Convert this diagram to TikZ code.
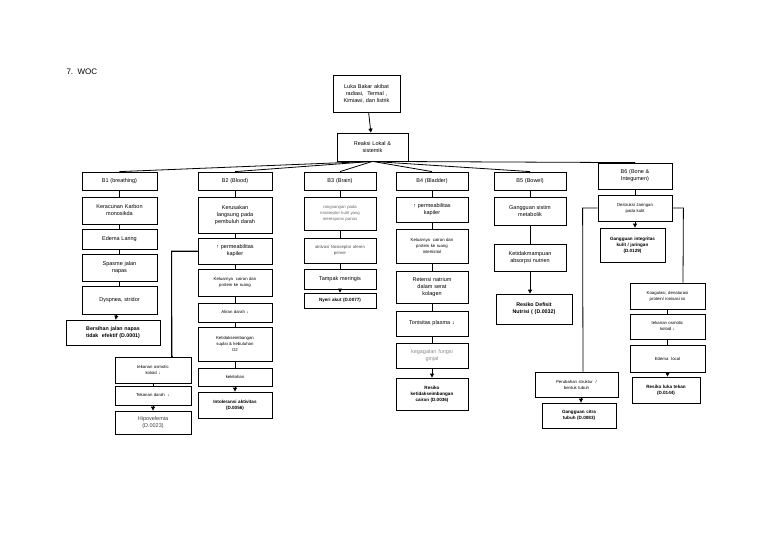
\documentclass[tikz,border=0pt]{standalone}
\usepackage{fontspec}
\setmainfont{Liberation Sans}
\usetikzlibrary{arrows.meta}
\begin{document}
\begin{tikzpicture}[x=1pt,y=-1pt,
  bx/.style={draw,line width=0.8pt,align=center,inner sep=1pt,font=\fontsize{5.5}{7}\selectfont},
  sm/.style={font=\fontsize{4.3}{6}\selectfont},
  bd/.style={font=\fontsize{5.3}{7}\selectfont\bfseries},
  ln/.style={line width=0.8pt},
  ar/.style={line width=0.8pt,-{Triangle[length=4pt,width=4pt]}}]
\useasboundingbox (0,0) rectangle (768,543);
\newcommand{\bb}[6][]{\node[bx,#1,minimum width={#4-#3},minimum height={#6-#5},text width={#4-#3-3}] (#2) at ({(#3+#4)/2},{(#5+#6)/2})}
\node[anchor=west,font=\fontsize{8}{9}\selectfont] (title) at (63,72) {7.\ \ WOC};
\bb{luka}{333}{400}{75}{112}{Luka Bakar akibat radiasi, \ Termal ,\\ Kimiawi, dan listrik};
\bb{reak}{337}{408}{133}{161}{Reaksi Lokal \&\\ sistemik};
\bb{b1}{82}{157}{172}{190}{B1 (breathing)};
\bb{b2}{198}{272}{172}{190}{B2 (Blood)};
\bb{b3}{304}{376}{172}{190}{B3 (Brain)};
\bb{b4}{396}{468}{172}{190}{B4 (Bladder)};
\bb{b5}{494}{566}{172}{190}{B5 (Bowel)};
\bb{b6}{598}{672}{163}{189}{B6 (Bone \&\\ Integumen)};
% B1
\bb{k1}{82}{157}{197}{224}{Keracunan Karbon\\ monosikda};
\bb{k2}{82}{157}{229}{249}{Edema Laring};
\bb{k3}{82}{157}{254}{281}{Spasme jalan\\ napas};
\bb{k4}{82}{157}{286}{314}{Dyspnea, stridor\\[5pt]};
\bb[bd]{k5}{66}{160}{320}{345}{Bersihan jalan napas\\ tidak \ efektif (D.0001)};
% B2
\bb{c1}{198}{272}{197}{233}{Kerusakan\\ langsung pada\\ pembuluh darah};
\bb{c2}{198}{272}{238}{264}{↑ permeabilitas\\ kapiler};
\bb[sm]{c3}{198}{272}{269}{296}{Keluarnya \ cairan dan\\ protein ke ruang\\[3pt]};
\bb[sm]{c4}{198}{272}{303}{322}{Aliran darah ↓};
\bb[sm]{c5}{198}{272}{327}{361}{Ketidakseimbangan\\ suplai \& kebutuhan\\ O2};
\bb[sm]{c6}{198}{272}{368}{386}{kelelahan\\[2pt]};
\bb[bd,font=\fontsize{4.6}{6}\selectfont\bfseries]{c7}{198}{272}{392}{418}{Intoleransi aktivitas\\ (D.0056)\\[3pt]};
\bb[sm]{d1}{115}{191}{357}{383}{tekanan osmotic\\ koloid ↓};
\bb[sm]{d2}{115}{191}{386}{405}{Tekanan darah \ ↓};
\bb[text=black!75]{d3}{115}{191}{411}{434}{Hipovelemia\\ (D.0023)};
% B3
\bb[sm,text=black!60]{e1}{304}{376}{197}{230}{rangsangan pada\\ nosiseptor kulit yang\\ merespons panas\\[3pt]};
\bb[sm,text=black!70]{e2}{304}{376}{238}{263}{aktivasi Nosiseptor aferen\\ primer\\[3pt]};
\bb{e3}{304}{376}{269}{289}{Tampak meringis};
\bb[bd,font=\fontsize{4.6}{6}\selectfont\bfseries]{e4}{304}{376}{293}{308}{Nyeri akut (D.0077)};
% B4
\bb{f1}{396}{468}{197}{222}{↑ permeabilitas\\ kapiler};
\bb[sm]{f2}{396}{468}{229}{263}{Keluarnya \ cairan dan\\ protein ke ruang\\ intertistial};
\bb{f3}{396}{468}{271}{303}{Retensi natrium\\ dalam serat\\ kolagen};
\bb{f4}{396}{468}{311}{336}{Tonisitas plasma ↓\\[5pt]};
\bb[text=black!45]{f5}{396}{468}{343}{368}{kegagalan fungsi\\ ginjal};
\bb[bd,font=\fontsize{4.6}{6}\selectfont\bfseries]{f6}{396}{468}{378}{410}{Resiko\\ ketidakseimbangan\\ cairan (D.0036)};
% B5
\bb{g1}{494}{566}{197}{225}{Gangguan sistim\\ metabolik};
\bb{g2}{494}{566}{244}{271}{Ketidakmampuan\\ absorpsi nutrien};
\bb[bd]{g3}{496}{572}{294}{324}{Resiko Defisit\\ Nutrisi ( (D.0032)};
% B6
\bb[sm]{h1}{598}{672}{195}{221}{Destruksi Jaringan\\ pada kulit};
\bb[bd,font=\fontsize{4.6}{6}\selectfont\bfseries]{h2}{600}{665}{228}{262}{Gangguan integritas\\ kulit / jaringan\\ (D.0129)};
\bb[sm]{h3}{630}{705}{283}{309}{Koagulasi, denaturasi\\ protein/ ionisasi isi};
\bb[sm]{h4}{630}{705}{314}{339}{tekanan osmotic\\ koloid ↓};
\bb[sm]{h5}{630}{705}{345}{372}{Edema \ local\\[6pt]};
\bb[bd,font=\fontsize{4.6}{6}\selectfont\bfseries]{h6}{632}{700}{377}{403}{Resiko luka tekan\\ (D.0144)};
\bb[sm]{p1}{535}{618}{372}{397}{Perubahan struktur \ /\\ bentuk tubuh};
\bb[bd,font=\fontsize{4.6}{6}\selectfont\bfseries]{p2}{542}{616}{403}{428}{Gangguan citra\\ tubuh (D.0083)};
% connectors
\draw[ar] (luka) -- (reak);
\foreach \b in {b1,b2,b3,b4,b5,b6} \draw[ln] (reak.south) -- (\b.north);
\draw[ln] (b1)--(k1) (k1)--(k2) (k2)--(k3) (k3)--(k4);
\draw[ar] (k4)--(k5);
\draw[ln] (b2)--(c1) (c1)--(c2) (c2)--(c3) (c3)--(c4) (c4)--(c5) (c5)--(c6);
\draw[ar] (c6)--(c7);
\draw[ln] (c2.west) -- ++(-26,0) |- (d1.north -| 172,0) coordinate (dt);
\draw[ln] (c2.west) -- ++(-26,0) -- (172,357);
\draw[ln] (d1.south -| 172,0) ++(0,0);
\draw[ln] (d1)--(d2);
\draw[ar] (d2)--(d3);
\draw[ln] (b3)--(e1) (e1)--(e2) (e2)--(e3);
\draw[ar] (e3)--(e4);
\draw[ln] (b4)--(f1) (f1)--(f2) (f2)--(f3) (f3)--(f4) (f4)--(f5);
\draw[ar] (f5)--(f6);
\draw[ln] (b5)--(g1) (g1)--(g2);
\draw[ar] (g2)--(g3.north -| g2);
\draw[ln] (b6)--(h1);
\draw[ar] (h1)--(h2.north -| h1);
\draw[ln] (h1.east) -- ++(11,0) -- (h3.north -| 683,0);
\draw[ln] (h3)--(h4) (h4)--(h5);
\draw[ar] (h5)--(h6.north -| h5);
\draw[ln] (h1.west) -- ++(-15,0) -- (p1.north -| 583,0);
\draw[ar] (p1.south -| 581,0)--(p2.north -| 581,0);
\end{tikzpicture}
\end{document}
